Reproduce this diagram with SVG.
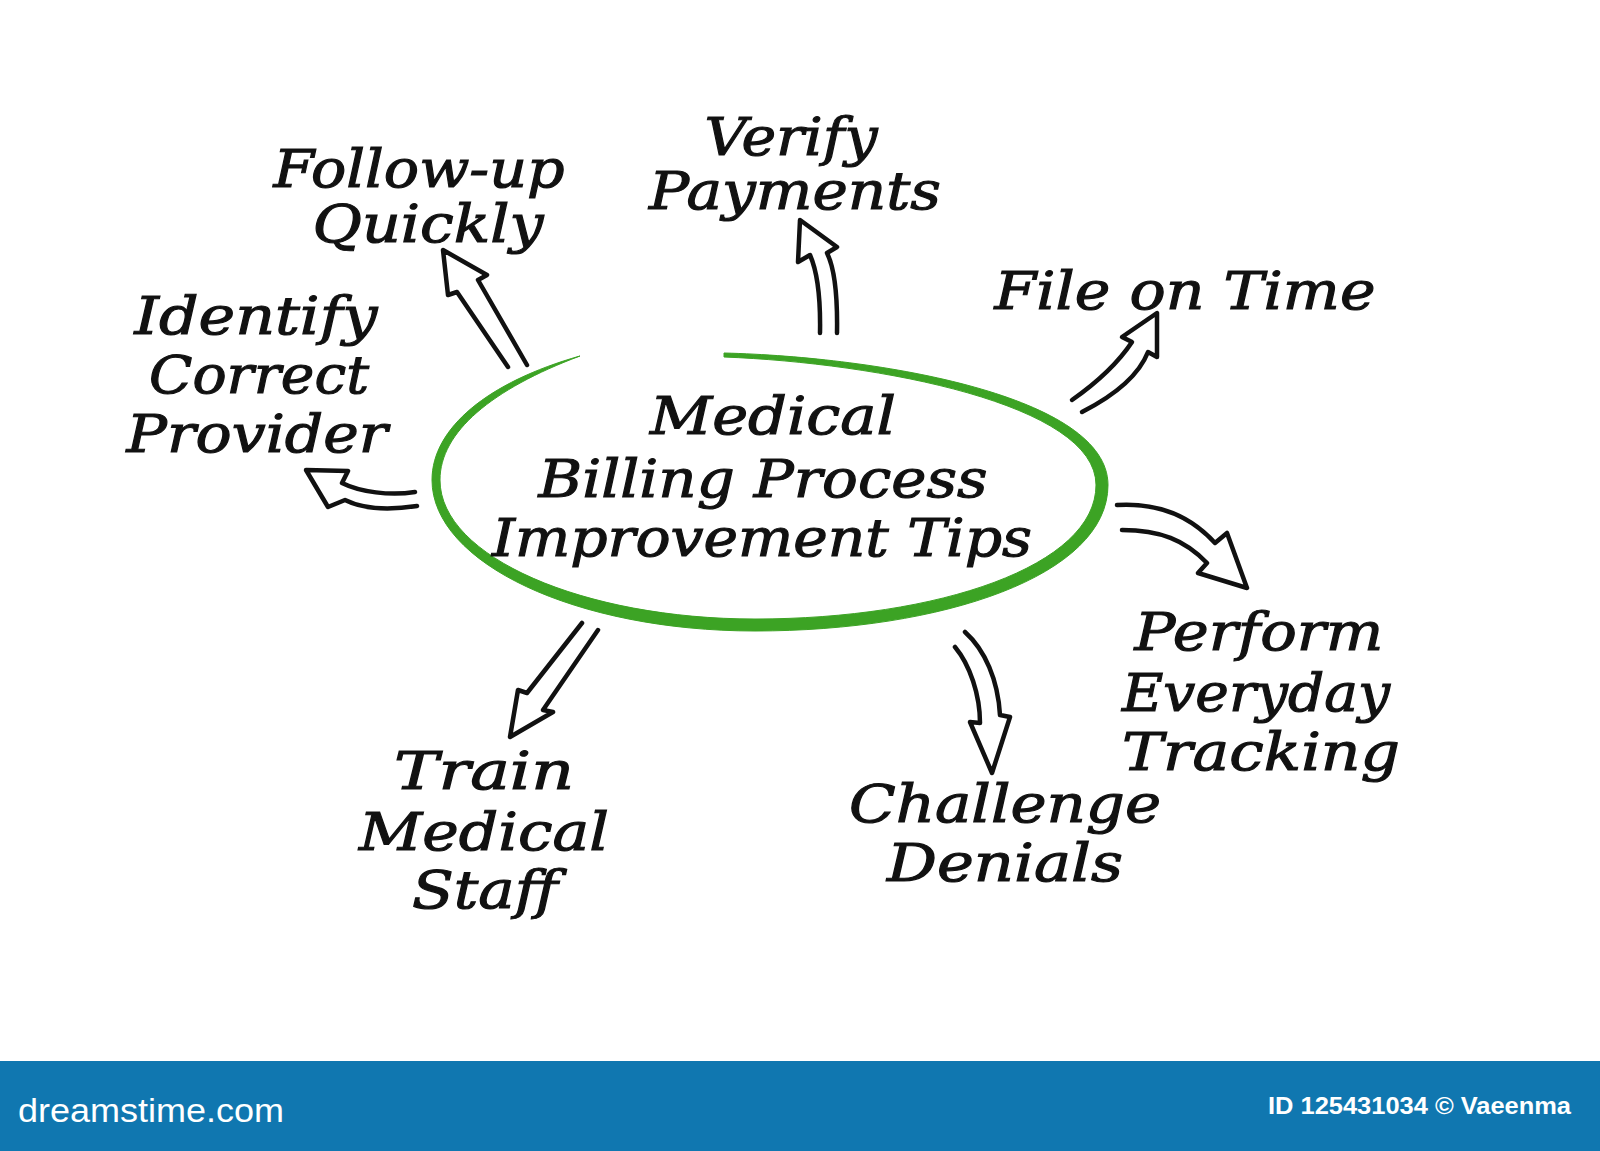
<svg xmlns="http://www.w3.org/2000/svg" width="1600" height="1151" viewBox="0 0 1600 1151">
<style>
.t{font-family:"DejaVu Serif","Liberation Serif",serif;font-style:italic;font-size:52px;fill:#111;stroke:#111;stroke-width:1.1;text-anchor:middle}
.a{fill:none;stroke:#111;stroke-width:4.5;stroke-linecap:round;stroke-linejoin:round}
.g{fill:#3ca324;stroke:#3ca324;stroke-width:1;stroke-linejoin:round}
</style>
<rect width="1600" height="1151" fill="#fff"/>
<g id="center">
<path class="g" d="M724,353 C880,357 1108,396 1108,485 C1108,576 942,631 755,631 C576,631 432,563 432,480 C432,428 488,382 580,356 C492,389 440,432 440,480 C440,557 584,619 755,619 C938,619 1096,566 1096,485 C1096,404 878,363 724,357 Z"/>
<text class="t" x="773" y="434" textLength="246" lengthAdjust="spacingAndGlyphs">Medical</text>
<text class="t" x="763" y="497" textLength="449" lengthAdjust="spacingAndGlyphs">Billing Process</text>
<text class="t" x="762" y="556" textLength="540" lengthAdjust="spacingAndGlyphs">Improvement Tips</text>
</g>
<g id="connectors">
<path class="a" d="M508,367 L457,292 L448,295 L443,250 L487,275 L478,280 L527,365"/>
<path class="a" d="M415,492 C390,496 360,492 342,483 L348,471 L306,470 L328,507 L345,500 C365,510 390,510 417,506"/>
<path class="a" d="M820,333 Q821,280 810,255 L798,262 L800,220 L837,247 L827,253 Q838,275 837,333"/>
<path class="a" d="M1072,400 Q1112,372 1132,342 L1122,337 L1157,313 L1157,357 L1148,352 Q1135,385 1082,412"/>
<path class="a" d="M1117,505 C1150,503 1185,510 1215,543 L1227,533 L1247,588 L1198,573 L1207,563 C1185,540 1160,530 1122,530"/>
<path class="a" d="M582,623 L527,693 L518,690 L510,737 L553,712 L543,710 L598,630"/>
<path class="a" d="M955,647 C970,665 980,695 980,723 L970,722 L992,773 L1010,717 L1000,715 C998,680 985,650 965,632"/>
</g>
<g id="follow-up">
<text class="t" x="419" y="187" textLength="291" lengthAdjust="spacingAndGlyphs">Follow-up</text>
<text class="t" x="428" y="242" textLength="231" lengthAdjust="spacingAndGlyphs">Quickly</text>
</g>
<g id="verify">
<text class="t" x="791" y="155" textLength="173" lengthAdjust="spacingAndGlyphs">Verify</text>
<text class="t" x="795" y="209" textLength="292" lengthAdjust="spacingAndGlyphs">Payments</text>
</g>
<g id="file">
<text class="t" x="1185" y="309" textLength="381" lengthAdjust="spacingAndGlyphs">File on Time</text>
</g>
<g id="identify">
<text class="t" x="256" y="334" textLength="243" lengthAdjust="spacingAndGlyphs">Identify</text>
<text class="t" x="259" y="393" textLength="220" lengthAdjust="spacingAndGlyphs">Correct</text>
<text class="t" x="257" y="452" textLength="261" lengthAdjust="spacingAndGlyphs">Provider</text>
</g>
<g id="perform">
<text class="t" x="1259" y="650" textLength="249" lengthAdjust="spacingAndGlyphs">Perform</text>
<text class="t" x="1256" y="711" textLength="268" lengthAdjust="spacingAndGlyphs">Everyday</text>
<text class="t" x="1261" y="770" textLength="278" lengthAdjust="spacingAndGlyphs">Tracking</text>
</g>
<g id="train">
<text class="t" x="484" y="789" textLength="180" lengthAdjust="spacingAndGlyphs">Train</text>
<text class="t" x="484" y="850" textLength="250" lengthAdjust="spacingAndGlyphs">Medical</text>
<text class="t" x="485" y="908" textLength="146" lengthAdjust="spacingAndGlyphs">Staff</text>
</g>
<g id="challenge">
<text class="t" x="1005" y="822" textLength="312" lengthAdjust="spacingAndGlyphs">Challenge</text>
<text class="t" x="1005" y="881" textLength="236" lengthAdjust="spacingAndGlyphs">Denials</text>
</g>
<g id="footer">
<rect x="0" y="1061" width="1600" height="90" fill="#1077b0"/>
<text x="18" y="1122" font-family="Liberation Sans, sans-serif" font-size="34" fill="#fff" textLength="266" lengthAdjust="spacingAndGlyphs">dreamstime.com</text>
<text x="1268" y="1114" font-family="Liberation Sans, sans-serif" font-weight="bold" font-size="24" fill="#fff" textLength="303" lengthAdjust="spacingAndGlyphs">ID 125431034 © Vaeenma</text>
</g>
</svg>
